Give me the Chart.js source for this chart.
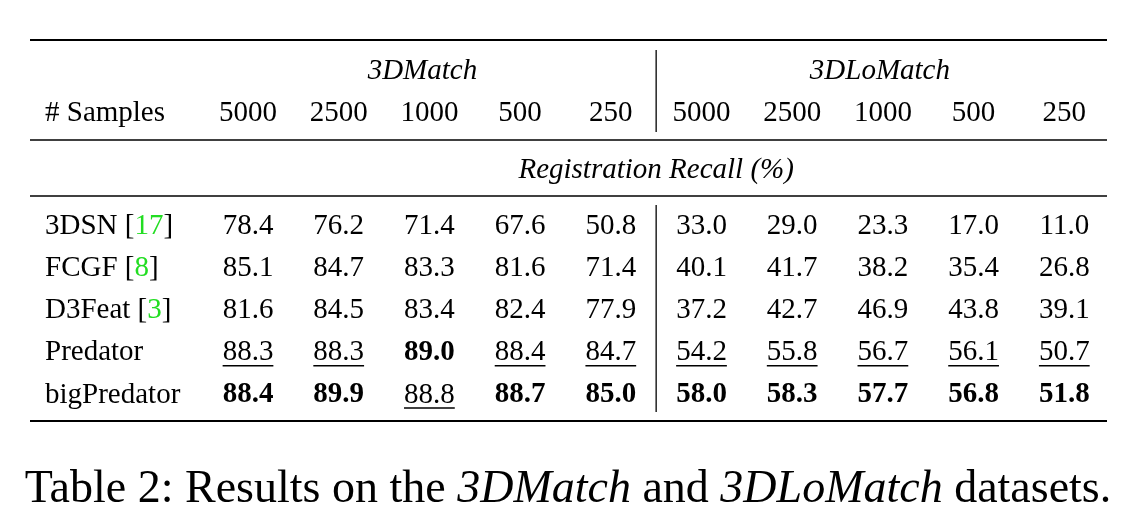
<!DOCTYPE html>
<html>
<head>
<meta charset="utf-8">
<script src="https://cdn.jsdelivr.net/npm/chart.js@4/dist/chart.umd.min.js"></script>
<style>
  html, body { margin: 0; padding: 0; background: #fff; }
  #wrap { width: 1136px; height: 532px; }
</style>
</head>
<body>
<div id="wrap"><canvas id="tbl"></canvas></div>
<script>
// Table data
const groups = ['3DMatch', '3DLoMatch'];
const samples = ['5000', '2500', '1000', '500', '250', '5000', '2500', '1000', '500', '250'];
const methods = ['3DSN', 'FCGF', 'D3Feat', 'Predator', 'bigPredator'];
const cites = ['17', '8', '3', '', ''];
const r3DSN = [78.4, 76.2, 71.4, 67.6, 50.8, 33.0, 29.0, 23.3, 17.0, 11.0];
const rFCGF = [85.1, 84.7, 83.3, 81.6, 71.4, 40.1, 41.7, 38.2, 35.4, 26.8];
const rD3Feat = [81.6, 84.5, 83.4, 82.4, 77.9, 37.2, 42.7, 46.9, 43.8, 39.1];
const rPredator = [88.3, 88.3, 89.0, 88.4, 84.7, 54.2, 55.8, 56.7, 56.1, 50.7];
const rBigPredator = [88.4, 89.9, 88.8, 88.7, 85.0, 58.0, 58.3, 57.7, 56.8, 51.8];
const rows = [r3DSN, rFCGF, rD3Feat, rPredator, rBigPredator];
const metricLabel = 'Registration Recall (%)';
const caption = 'Table 2: Results on the ';

const FONT = '"Liberation Serif", "DejaVu Serif", serif';
const SIZE = 29;

// best = bold, second best = underline
function rank(col) {
    const vals = rows.map(r => r[col]);
    const sorted = [...new Set(vals)].sort((a, b) => b - a);
    return vals.map(v => v === sorted[0] ? 1 : (v === sorted[1] ? 2 : 0));
}

const tablePlugin = {
    id: 'tablePlugin',
    afterDraw(chart) {
        const c = chart.ctx;
        const xs = chart.scales.x, ys = chart.scales.y;
        const X = v => xs.getPixelForValue(v);
        const Y = v => ys.getPixelForValue(v);
        c.save();
        c.fillStyle = '#000';
        c.strokeStyle = '#000';
        c.textBaseline = 'middle';

        const rule = (y, w) => {
            c.lineWidth = w;
            c.beginPath(); c.moveTo(30, y); c.lineTo(1107, y); c.stroke();
        };
        rule(40, 2.2); rule(140, 1.3); rule(196, 1.3); rule(421, 2.2);

        const sepX = (X(4) + X(5)) / 2;
        c.lineWidth = 1.3;
        c.beginPath(); c.moveTo(sepX, 50); c.lineTo(sepX, 132); c.stroke();
        c.beginPath(); c.moveTo(sepX, 205); c.lineTo(sepX, 412); c.stroke();

        // group headers
        c.font = `italic ${SIZE}px ${FONT}`;
        c.textAlign = 'center';
        c.fillText(groups[0], X(2) - 7, 71);
        c.fillText(groups[1], X(7) - 3, 71);
        c.fillText(metricLabel, sepX, 170);

        // header row
        c.font = `${SIZE}px ${FONT}`;
        c.textAlign = 'left';
        c.fillText('# Samples', 45, 113);
        c.textAlign = 'center';
        samples.forEach((s, i) => c.fillText(s, X(i), 113));

        // body
        const ranks = samples.map((_, j) => rank(j));
        rows.forEach((row, i) => {
            const y = Y(i) + 2;
            c.font = `${SIZE}px ${FONT}`;
            c.textAlign = 'left';
            let x = 45;
            if (cites[i]) {
                const parts = [[methods[i] + ' [', '#000'], [cites[i], '#22dd22'], [']', '#000']];
                parts.forEach(([t, col]) => {
                    c.fillStyle = col; c.fillText(t, x, y); x += c.measureText(t).width;
                });
                c.fillStyle = '#000';
            } else {
                c.fillText(methods[i], x, y);
            }
            c.textAlign = 'center';
            row.forEach((v, j) => {
                const r = ranks[j][i];
                c.font = `${r === 1 ? 'bold ' : ''}${SIZE}px ${FONT}`;
                const t = v.toFixed(1);
                const cx = X(j);
                c.fillText(t, cx, y);
                if (r === 2) {
                    const w = c.measureText(t).width;
                    c.lineWidth = 1.3;
                    c.beginPath(); c.moveTo(cx - w / 2, y + 13); c.lineTo(cx + w / 2, y + 13); c.stroke();
                }
            });
        });

        // caption
        const capSize = 46;
        const segs = [[caption, ''], [groups[0], 'italic '], [' and ', ''], [groups[1], 'italic '], [' datasets.', '']];
        let total = 0;
        segs.forEach(([t, s]) => { c.font = `${s}${capSize}px ${FONT}`; total += c.measureText(t).width; });
        let cx = 568 - total / 2;
        c.textAlign = 'left';
        segs.forEach(([t, s]) => {
            c.font = `${s}${capSize}px ${FONT}`;
            c.fillText(t, cx, 490);
            cx += c.measureText(t).width;
        });
        c.restore();
    }
};

// column index -> pixel via x scale, row index -> pixel via y scale
new Chart(document.getElementById('tbl'), {
    type: 'scatter',
    data: { datasets: [{ data: [], pointRadius: 0 }] },
    options: {
        responsive: true,
        maintainAspectRatio: false,
        animation: false,
        layout: { padding: 0 },
        plugins: { legend: { display: false }, tooltip: { enabled: false } },
        scales: {
            x: { type: 'linear', display: false, min: -248 / 90.7, max: (1136 - 248) / 90.7 },
            y: { type: 'linear', display: false, reverse: true, min: -224 / 42.25, max: (532 - 224) / 42.25 }
        }
    },
    plugins: [tablePlugin]
});
</script>
</body>
</html>
